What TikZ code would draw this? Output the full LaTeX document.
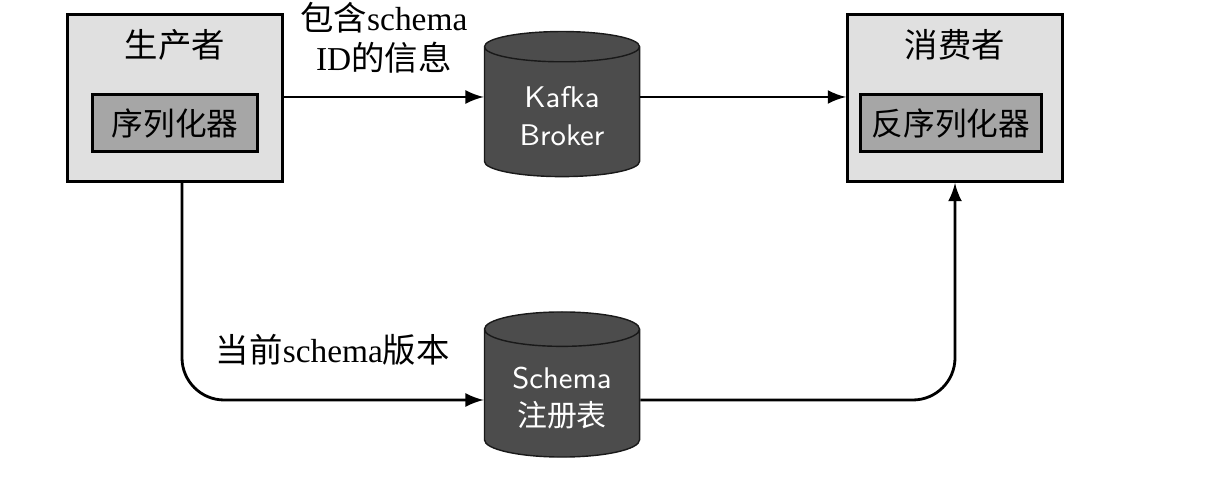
\documentclass[tikz,border=0pt]{standalone}
\usepackage{fontspec}
\setmainfont{Liberation Serif}
\newfontfamily\cjk{Noto Sans CJK SC}
\usetikzlibrary{shapes.geometric,positioning}
\colorlet{boxgray}{black!12}
\colorlet{innergray}{black!35}
\colorlet{dbgray}{black!70}

\begin{document}
\begin{tikzpicture}[x=0.01cm, y=-0.01cm, font=\fontsize{9.5}{11.5}\selectfont,
    outer box/.style = {draw, thick, fill=boxgray, minimum width=2.15cm, minimum height=1.67cm},
    inner box/.style = {draw, thick, fill=innergray, minimum width=1.65cm, minimum height=0.57cm, font=\cjk\fontsize{9}{11}\selectfont},
    store/.style = {draw=black!90, cylinder, shape border rotate=90, aspect=0.28, fill=dbgray, text=white, minimum width=1.55cm, minimum height=1.45cm, align=center, font=\sffamily\fontsize{8.5}{11}\selectfont},
    flow/.style = {thick, -latex, rounded corners=12pt}]
    \useasboundingbox (0,0) rectangle (1210,486);

    \node[outer box] (prod) at (175,98) {};
    \node[font=\cjk\fontsize{9.5}{11}\selectfont] (prod label) at (175,45) {生产者};
    \node[inner box] (ser) at (175,123) {序列化器};

    \node[outer box] (cons) at (955,98) {};
    \node[font=\cjk\fontsize{9.5}{11}\selectfont] (cons label) at (955,45) {消费者};
    \node[inner box] (deser) at (951,123) {反序列化器};

    \node[store] (broker) at (562,116) {Kafka\\Broker};
    \node[store] (registry) at (562,398) {Schema\\{\cjk 注册表}};

    \coordinate (prod out) at (prod.south -| 182,0);
    \coordinate (cons in) at (cons.south -| 955,0);

    \draw[flow] (prod.east |- 0,97) -- (broker.west |- 0,97)
        node[midway, above=3pt, align=center] {{\cjk 包含}schema\\ID{\cjk 的信息}};
    \draw[flow] (broker.east |- 0,97) -- (cons.west |- 0,97);
    \draw[flow] (prod out) |- (registry.west |- 0,400)
        node[pos=0.75, above=6pt] {{\cjk 当前}schema{\cjk 版本}};
    \draw[flow] (registry.east |- 0,400) -| (cons in);
\end{tikzpicture}
\end{document}
